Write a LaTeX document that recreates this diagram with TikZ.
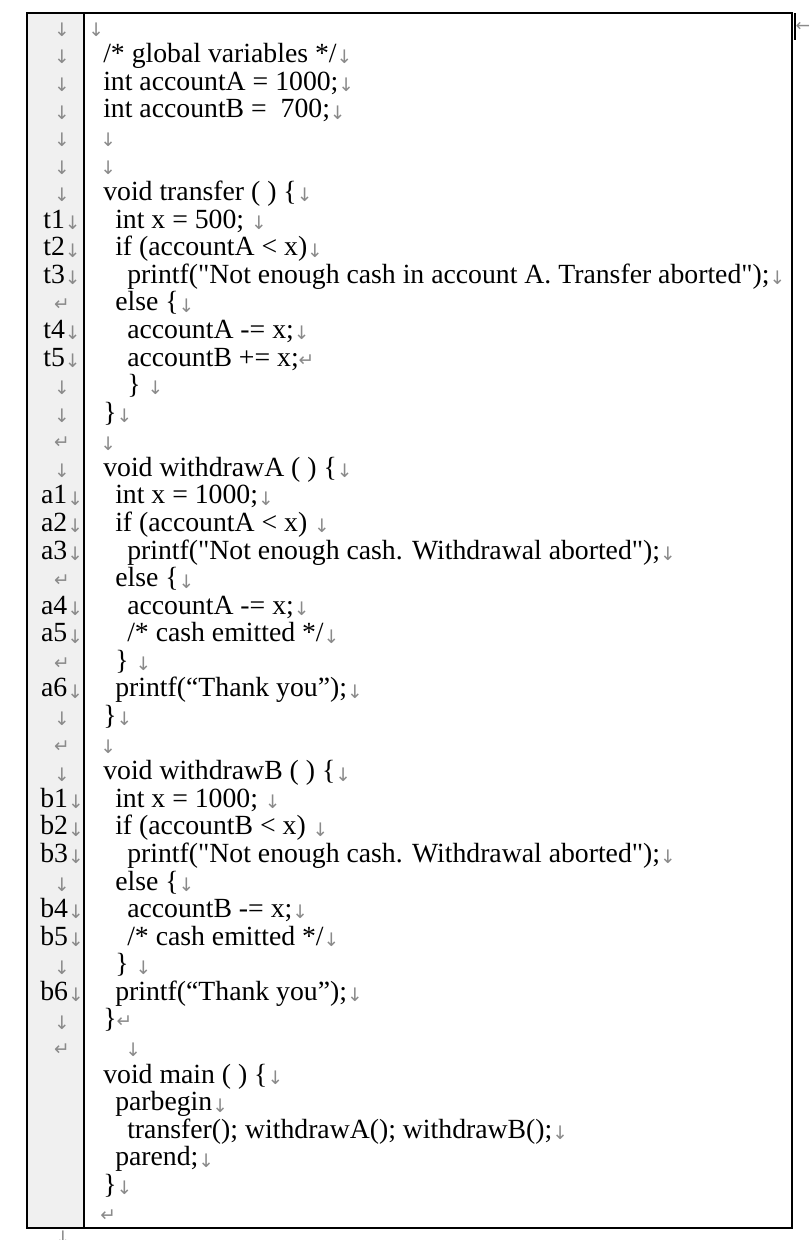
\documentclass[tikz,border=0pt]{standalone}
\usepackage{fontspec}
\setmainfont{Liberation Serif}
\newfontfamily\mkfont{DejaVu Sans}
\font\qf="Liberation Serif" at 20.8pt
\definecolor{mk}{HTML}{8A8A8A}
\definecolor{gutter}{HTML}{F0F0F0}
\newcommand{\dn}{{\mkfont\fontsize{14pt}{14pt}\selectfont\color{mk}\raisebox{-1pt}{↓}}}
\newcommand{\rt}{{\mkfont\fontsize{14pt}{14pt}\selectfont\color{mk}↵}}
\newcommand{\dq}{{\qf\char"22}}
\newcommand{\Ln}[3]{\node[code,name=c#1] at (#2,{32+27.58*(#1-1)}) {#3};}
\newcommand{\Rw}[2]{\node[gut,name=g#1] at (62,{32+27.58*(#1-1)}) {#2};}
\begin{document}
\begin{tikzpicture}[x=0.75pt,y=-0.75pt,
  code/.style={anchor=mid west,inner sep=0pt,font=\fontsize{20.8pt}{22pt}\selectfont},
  gut/.style={anchor=mid,inner sep=0pt,font=\fontsize{20.8pt}{22pt}\selectfont}]
\useasboundingbox (0,0) rectangle (812,1240);
\fill[gutter] (27,13) rectangle (84,1228);
\draw[line width=0.8pt] (27,13) rectangle (792,1228);
\draw[line width=0.8pt] (84,13) -- (84,1228);
\draw[line width=0.8pt] (795,13) -- (795,40);
\node[anchor=mid,inner sep=0pt,name=rowend] at (803,28) {{\mkfont\fontsize{13pt}{13pt}\selectfont\color{mk}←}};
\node[anchor=north,inner sep=0pt,name=below] at (63,1231) {\dn};
% gutter
\foreach \r in {1,2,3,4,5,6,7,14,15,17,26,28,32,35,37} {\Rw{\r}{\dn}}
\foreach \r in {11,16,21,24,27,38} {\Rw{\r}{\rt}}
\Rw{8}{t1\dn}\Rw{9}{t2\dn}\Rw{10}{t3\dn}\Rw{12}{t4\dn}\Rw{13}{t5\dn}
\Rw{18}{a1\dn}\Rw{19}{a2\dn}\Rw{20}{a3\dn}\Rw{22}{a4\dn}\Rw{23}{a5\dn}\Rw{25}{a6\dn}
\Rw{29}{b1\dn}\Rw{30}{b2\dn}\Rw{31}{b3\dn}\Rw{33}{b4\dn}\Rw{34}{b5\dn}\Rw{36}{b6\dn}
% code
\Ln{1}{88}{\dn}
\Ln{2}{103}{/* global variables */\dn}
\Ln{3}{103}{int accountA = 1000;\dn}
\Ln{4}{103}{int accountB = \ 700;\dn}
\Ln{5}{100}{\dn}
\Ln{6}{100}{\dn}
\Ln{7}{103}{void transfer ( ) \{\dn}
\Ln{8}{115}{int x = 500; \dn}
\Ln{9}{115}{if (accountA < x)\dn}
\Ln{10}{127}{printf(\dq Not enough cash in account A. Transfer aborted\dq);\dn}
\Ln{11}{115}{else \{\dn}
\Ln{12}{127}{accountA -= x;\dn}
\Ln{13}{127}{accountB += x;\rt}
\Ln{14}{127}{\} \dn}
\Ln{15}{103}{\}\dn}
\Ln{16}{100}{\dn}
\Ln{17}{103}{void withdrawA ( ) \{\dn}
\Ln{18}{115}{int x = 1000;\dn}
\Ln{19}{115}{if (accountA < x) \dn}
\Ln{20}{127}{printf(\dq Not enough cash. Withdrawal aborted\dq);\dn}
\Ln{21}{115}{else \{\dn}
\Ln{22}{127}{accountA -= x;\dn}
\Ln{23}{127}{/* cash emitted */\dn}
\Ln{24}{115}{\} \dn}
\Ln{25}{115}{printf(“Thank you”);\dn}
\Ln{26}{103}{\}\dn}
\Ln{27}{100}{\dn}
\Ln{28}{103}{void withdrawB ( ) \{\dn}
\Ln{29}{115}{int x = 1000; \dn}
\Ln{30}{115}{if (accountB < x) \dn}
\Ln{31}{127}{printf(\dq Not enough cash. Withdrawal aborted\dq);\dn}
\Ln{32}{115}{else \{\dn}
\Ln{33}{127}{accountB -= x;\dn}
\Ln{34}{127}{/* cash emitted */\dn}
\Ln{35}{115}{\} \dn}
\Ln{36}{115}{printf(“Thank you”);\dn}
\Ln{37}{103}{\}\rt}
\Ln{38}{125}{\dn}
\Ln{39}{103}{void main ( ) \{\dn}
\Ln{40}{115}{parbegin\dn}
\Ln{41}{127}{transfer(); withdrawA(); withdrawB();\dn}
\Ln{42}{115}{parend;\dn}
\Ln{43}{103}{\}\dn}
\Ln{44}{100}{\rt}
\end{tikzpicture}
\end{document}
